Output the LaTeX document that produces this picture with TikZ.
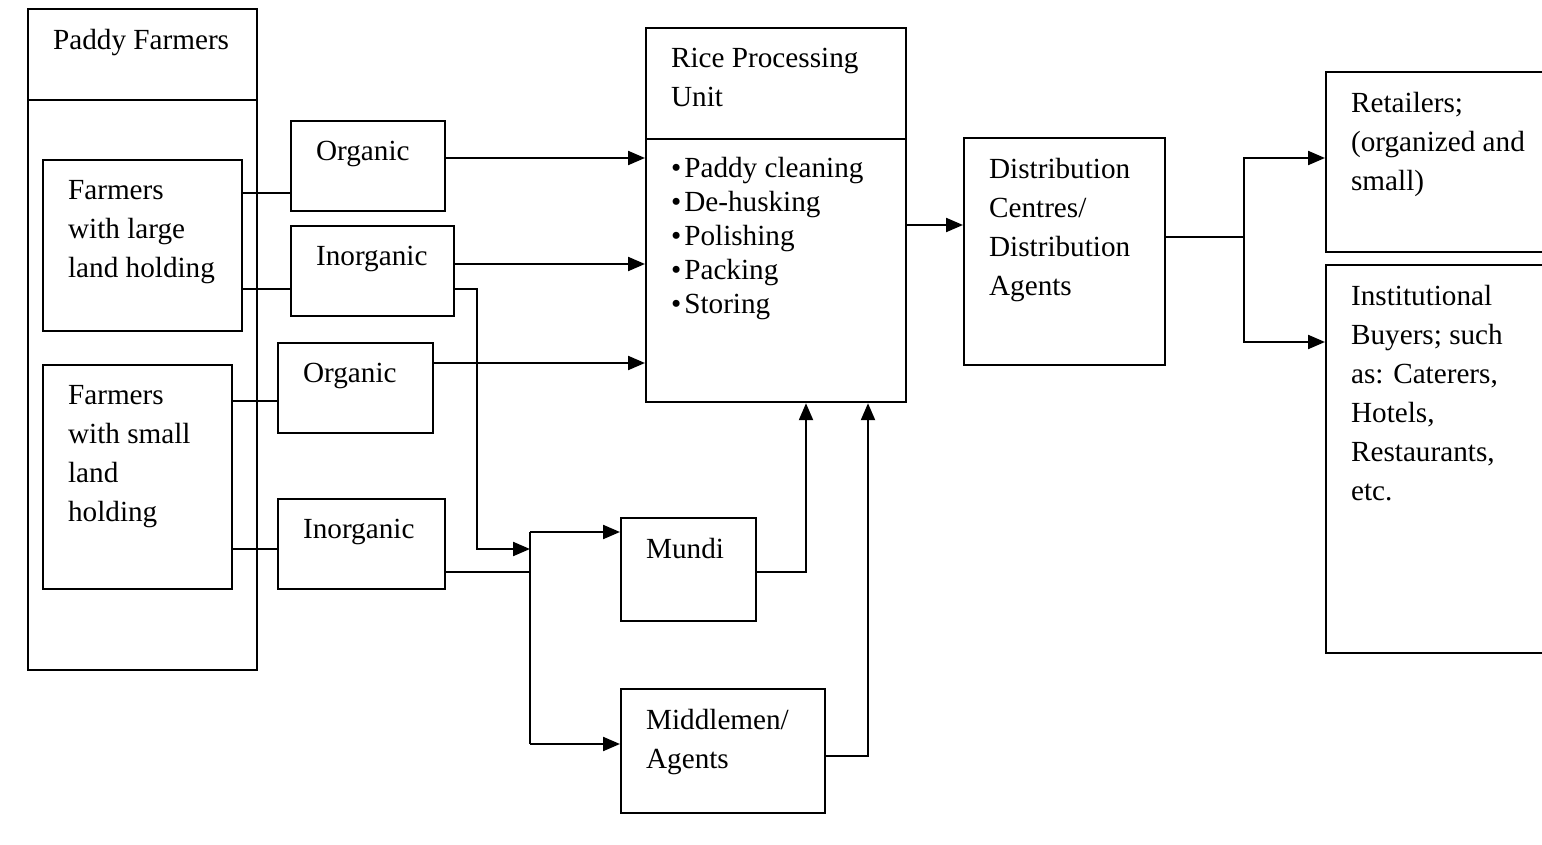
\documentclass[tikz,border=0pt]{standalone}
\usepackage{fontspec}
\setmainfont{Liberation Serif}
\usetikzlibrary{arrows.meta}

% box text: width and height in pixels of the picture grid
\newcommand{\boxtext}[3]{\parbox[t][\dimexpr#2pt/2-20pt\relax][t]{\dimexpr#1pt/2\relax}{\raggedright\leftskip=12.5pt #3}}

\tikzset{
  stage/.style={draw, line width=1.1pt, anchor=north west, inner xsep=0pt, inner ysep=10pt},
  link/.style={line width=1.1pt},
  flow/.style={line width=1.1pt, -{Triangle[length=8.5pt,width=7pt]}}
}

\begin{document}
\begin{tikzpicture}[x=0.5pt,y=-0.5pt,font=\fontsize{14.6}{19.5}\selectfont]
  \useasboundingbox (0,0) rectangle (1542,845);
  \clip (0,0) rectangle (1542,845);
  % farmers
  \node[stage] (paddy) at (27,8) {\boxtext{229}{661}{Paddy Farmers}};
  \draw[link] (paddy.west |- 0,100) -- (paddy.east |- 0,100);
  \node[stage] (large) at (42,159) {\boxtext{199}{171}{Farmers\\with large\\land holding}};
  \node[stage] (small) at (42,364) {\boxtext{189}{224}{Farmers\\with small\\land\\holding}};
  % produce
  \node[stage] (org1) at (290,120) {\boxtext{154}{90}{Organic}};
  \node[stage] (inorg1) at (290,225) {\boxtext{163}{90}{Inorganic}};
  \node[stage] (org2) at (277,342) {\boxtext{155}{90}{Organic}};
  \node[stage] (inorg2) at (277,498) {\boxtext{167}{90}{Inorganic}};
  % processing and trade
  \node[stage] (rpu) at (645,27) {\boxtext{260}{374}{Rice Processing\\Unit\\[16pt]
    \textbullet\hspace{1.5pt}Paddy cleaning\\[-2.5pt]
    \textbullet\hspace{1.5pt}De-husking\\[-2.5pt]
    \textbullet\hspace{1.5pt}Polishing\\[-2.5pt]
    \textbullet\hspace{1.5pt}Packing\\[-2.5pt]
    \textbullet\hspace{1.5pt}Storing}};
  \draw[link] (rpu.west |- 0,139) -- (rpu.east |- 0,139);
  \node[stage] (mundi) at (620,517) {\boxtext{135}{103}{Mundi}};
  \node[stage] (agents) at (620,688) {\boxtext{204}{124}{Middlemen/\\Agents}};
  \node[stage] (dist) at (963,137) {\boxtext{201}{227}{Distribution\\Centres/\\Distribution\\Agents}};
  \node[stage] (retail) at (1325,71) {\boxtext{240}{180}{Retailers;\\(organized and\\small)}};
  \node[stage] (inst) at (1325,264) {\boxtext{240}{388}{Institutional\\Buyers; such\\as: Caterers,\\Hotels,\\Restaurants,\\etc.}};
  % connectors
  \draw[link] (large.east |- 0,193) -- (org1.west |- 0,193);
  \draw[link] (large.east |- 0,289) -- (inorg1.west |- 0,289);
  \draw[link] (small.east |- 0,401) -- (org2.west |- 0,401);
  \draw[link] (small.east |- 0,549) -- (inorg2.west |- 0,549);
  \draw[flow] (org1.east |- 0,158) -- (rpu.west |- 0,158);
  \draw[flow] (inorg1.east |- 0,264) -- (rpu.west |- 0,264);
  \draw[flow] (org2.east |- 0,363) -- (rpu.west |- 0,363);
  \coordinate (split) at (530,532);
  \coordinate (splitend) at (530,744);
  \draw[flow] (inorg1.east |- 0,289) -| (477,549) -- (split |- 0,549);
  \draw[link] (inorg2.east |- 0,572) -- (split |- 0,572);
  \draw[link] (split) -- (splitend);
  \draw[flow] (split) -- (mundi.west |- split);
  \draw[flow] (splitend) -- (agents.west |- splitend);
  \draw[flow] (mundi.east |- 0,572) -| (806,0 |- rpu.south);
  \draw[flow] (agents.east |- 0,756) -| (868,0 |- rpu.south);
  \draw[flow] (rpu.east |- 0,225) -- (dist.west |- 0,225);
  \coordinate (fork) at (1244,237);
  \draw[link] (dist.east |- fork) -- (fork);
  \draw[flow] (fork) |- (retail.west |- 0,158);
  \draw[flow] (fork) |- (inst.west |- 0,342);
\end{tikzpicture}
\end{document}
